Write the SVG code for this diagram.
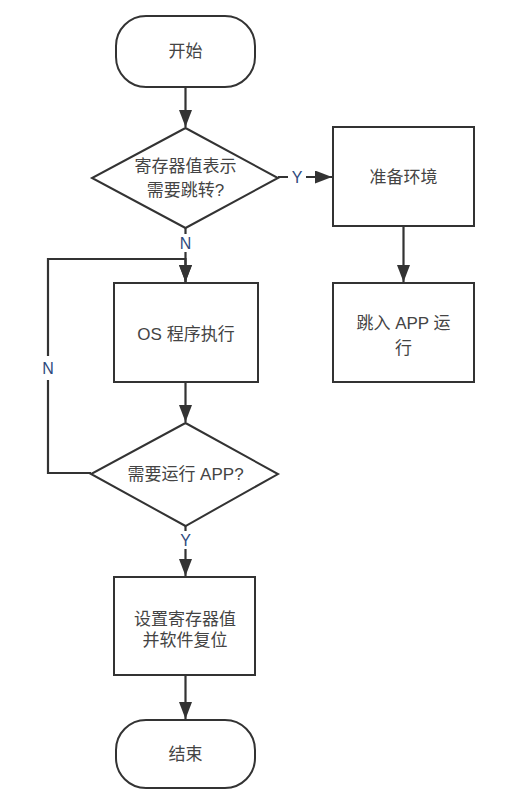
<svg xmlns="http://www.w3.org/2000/svg" width="505" height="799" viewBox="0 0 505 799">
<style>
.shape{fill:#fff;stroke:#333;stroke-width:2}
.t{font-family:"Liberation Sans","Noto Sans CJK SC",sans-serif;font-size:17px;fill:#444;text-anchor:middle;dominant-baseline:central}
.lbl{font-family:"Liberation Sans","Noto Sans CJK SC",sans-serif;font-size:16px;fill:#2e4a7d;text-anchor:middle;dominant-baseline:central}
.c{fill:none;stroke:#333;stroke-width:2.2}
</style>
<defs>
<marker id="a" markerWidth="17" markerHeight="13" refX="17" refY="6.5" orient="auto" markerUnits="userSpaceOnUse" viewBox="0 0 17 13">
<path d="M0,0 L17,6.5 L0,13 Z" fill="#333"/>
</marker>
</defs>
<rect width="505" height="799" fill="#fff"/>
<g id="connectors">
<path class="c" d="M185.5,87 V127" marker-end="url(#a)"/>
<path class="c" d="M278,177 H288 M306,177 H332" marker-end="url(#a)"/>
<path class="c" d="M403.5,226 V282" marker-end="url(#a)"/>
<path class="c" d="M185.5,228 V234 M185.5,252 V282" marker-end="url(#a)"/>
<path class="c" d="M91,473 H48 V380 M48,356 V259 H185.5 V282" marker-end="url(#a)"/>
<path class="c" d="M185.5,382 V422" marker-end="url(#a)"/>
<path class="c" d="M185.5,526 V531 M185.5,549 V576" marker-end="url(#a)"/>
<path class="c" d="M185.5,675 V719" marker-end="url(#a)"/>
<text class="lbl" x="297" y="177">Y</text>
<text class="lbl" x="185.5" y="243">N</text>
<text class="lbl" x="48" y="368">N</text>
<text class="lbl" x="185.5" y="540">Y</text>
</g>
<g id="start">
<rect class="shape" x="116" y="16" width="139" height="71" rx="30" ry="30"/>
<text class="t" x="185.5" y="51">开始</text>
</g>
<g id="decision1">
<polygon class="shape" points="185.5,128 278,178 185.5,228 92,178"/>
<text class="t" x="185.5" y="166">寄存器值表示</text>
<text class="t" x="185.5" y="190">需要跳转?</text>
</g>
<g id="prepare">
<rect class="shape" x="333" y="127" width="141" height="99"/>
<text class="t" x="403.5" y="177">准备环境</text>
</g>
<g id="jump">
<rect class="shape" x="333" y="283" width="141" height="99"/>
<text class="t" x="403.5" y="323">跳入 APP 运</text>
<text class="t" x="403.5" y="348">行</text>
</g>
<g id="os">
<rect class="shape" x="114" y="283" width="144" height="99"/>
<text class="t" x="186" y="334">OS 程序执行</text>
</g>
<g id="decision2">
<polygon class="shape" points="185.5,423 278,474 185.5,526 91,474"/>
<text class="t" x="185.5" y="474">需要运行 APP?</text>
</g>
<g id="reset">
<rect class="shape" x="114" y="577" width="141" height="98"/>
<text class="t" x="185" y="619">设置寄存器值</text>
<text class="t" x="185" y="640">并软件复位</text>
</g>
<g id="end">
<rect class="shape" x="116" y="720" width="139" height="68" rx="30" ry="30"/>
<text class="t" x="185.5" y="754">结束</text>
</g>
</svg>
